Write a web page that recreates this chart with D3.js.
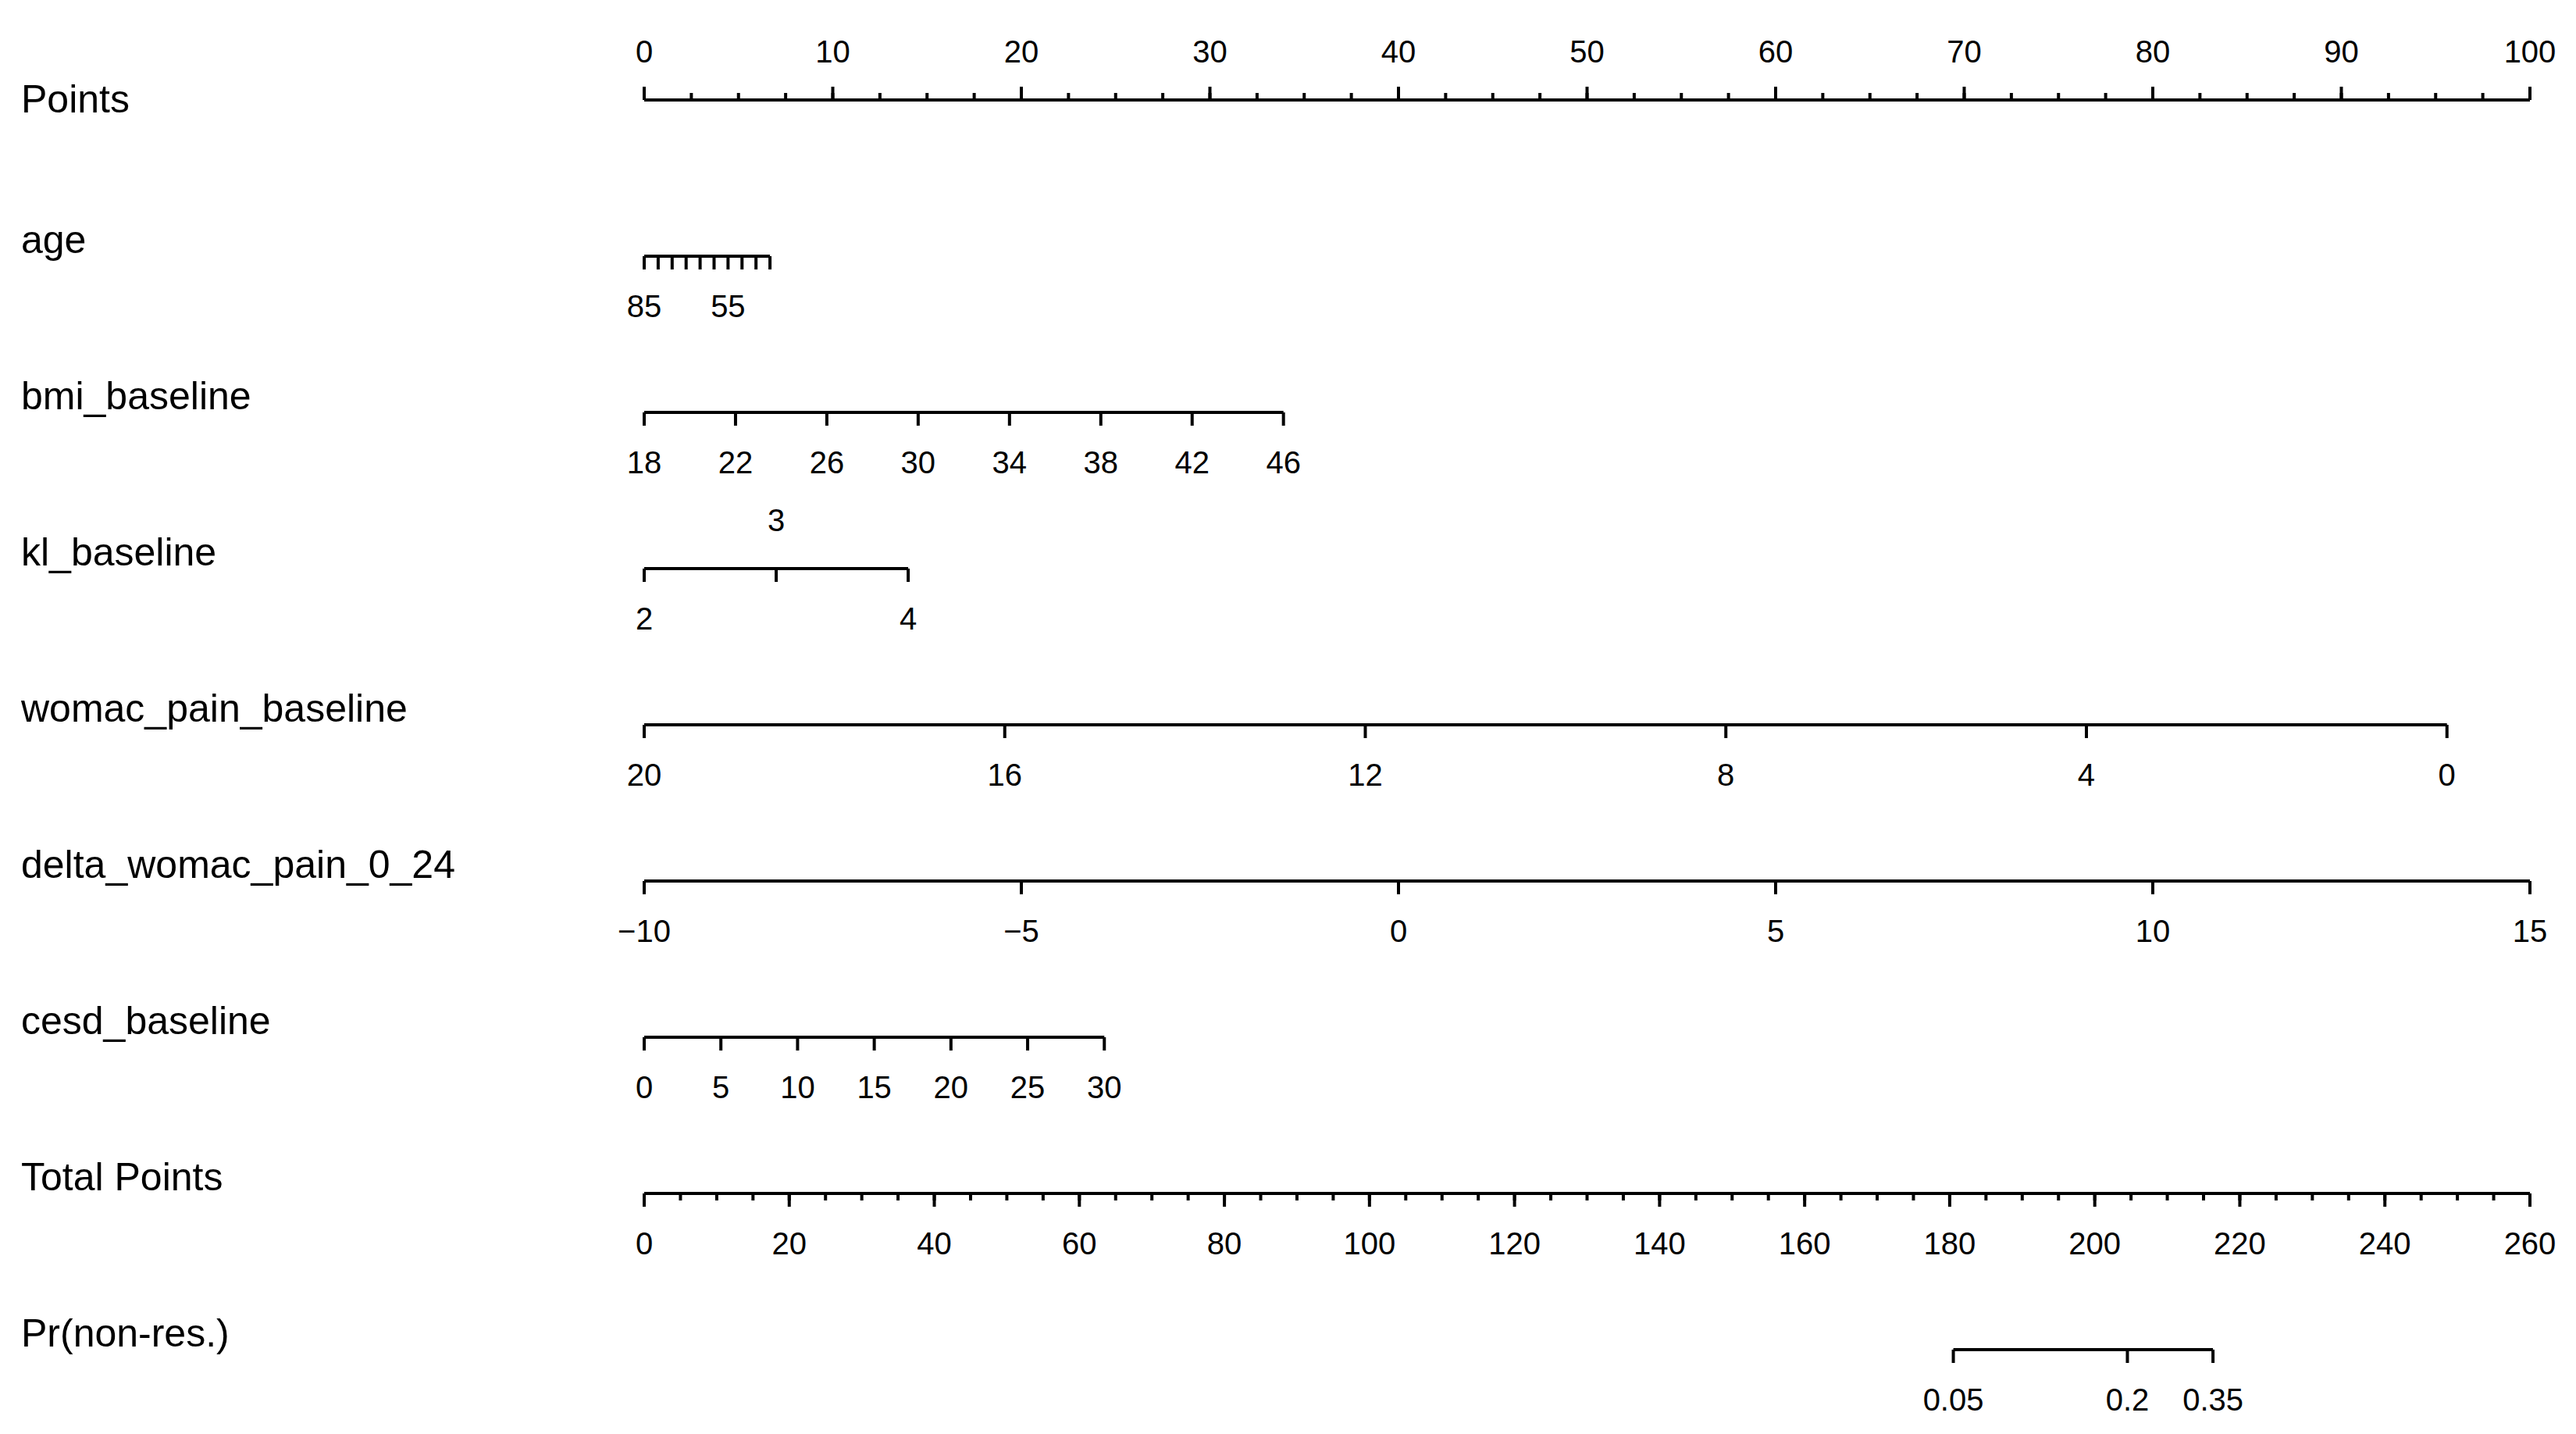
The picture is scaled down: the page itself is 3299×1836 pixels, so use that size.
<!DOCTYPE html>
<html><head><meta charset="utf-8">
<script src="https://cdn.jsdelivr.net/npm/d3@7"></script>
<style>body{margin:0;background:#fff}text{font-family:"Liberation Sans Narrow","Liberation Sans",Arial,sans-serif}</style>
</head><body><svg id="c" width="3299" height="1836"></svg>
<script>
const rowNames = ["Points","age","bmi_baseline","kl_baseline","womac_pain_baseline","delta_womac_pain_0_24","cesd_baseline","Total Points","Pr(non-res.)"];
// value domain ends and the points they map to
const ageDomain = [85, 40], agePoints = [0, 6.67], ageTicks = [85,80,75,70,65,60,55,50,45,40], ageLabels = [85,55];
const bmiDomain = [18, 46], bmiPoints = [0, 33.9], bmiTicks = [18,22,26,30,34,38,42,46];
const klDomain = [2, 4], klPoints = [0, 14.0], klTicks = [2,3,4];
const womacDomain = [20, 0], womacPoints = [0, 95.6], womacTicks = [20,16,12,8,4,0];
const deltaDomain = [-10, 15], deltaPoints = [0, 100], deltaTicks = [-10,-5,0,5,10,15];
const cesdDomain = [0, 30], cesdPoints = [0, 24.4], cesdTicks = [0,5,10,15,20,25,30];
const pointsTicks = d3.range(0,101,10), pointsMinor = d3.range(0,100.1,2.5);
const totalTicks = d3.range(0,261,20), totalMinor = d3.range(0,260.1,5);
const prValues = [0.05, 0.2, 0.35], prTotals = [180.5, 204.5, 216.3];

const svg = d3.select("#c");
const x = d3.scaleLinear([0,100],[825,3240]);
const xt = d3.scaleLinear([0,260],[825,3240]);
const y0 = 128, dy = 200;
const FS = 50, TS = 40, LW = 4;

rowNames.forEach((n,i)=>svg.append("text").attr("x",27).attr("y",y0+i*dy+(i==0?16:-4)).attr("font-size",FS).text(n));

function drawAxis(i, scale, ticks, opts={}){
  const y = y0 + i*dy;
  const g = svg.append("g").attr("stroke","#000").attr("stroke-width",LW).attr("fill","none");
  const r = d3.extent(ticks.map(scale));
  g.append("line").attr("x1",r[0]).attr("x2",r[1]).attr("y1",y).attr("y2",y);
  const dir = opts.up ? -1 : 1;
  (opts.minor||[]).forEach(t=>g.append("line").attr("x1",scale(t)).attr("x2",scale(t)).attr("y1",y).attr("y2",y+dir*9));
  ticks.forEach(t=>g.append("line").attr("x1",scale(t)).attr("x2",scale(t)).attr("y1",y).attr("y2",y+dir*(opts.tl||17)));
  const labels = opts.labels || ticks;
  labels.forEach(t=>{
    const above = opts.up || (opts.above && opts.above.includes(t));
    svg.append("text").attr("x",scale(t)).attr("y", above ? y-48 : y+78).attr("text-anchor","middle").attr("font-size",TS)
      .text(opts.fmt? opts.fmt(t) : String(t).replace("-","\u2212"));
  });
}
// Points (ticks upward)
drawAxis(0, x, pointsTicks, {up:true, minor:pointsMinor});
const mk = (dom, pts) => d3.scaleLinear(dom, pts.map(p=>x(p)));
drawAxis(1, mk(ageDomain, agePoints), ageTicks, {labels:ageLabels, tl:17});
drawAxis(2, mk(bmiDomain, bmiPoints), bmiTicks);
drawAxis(3, mk(klDomain, klPoints), klTicks, {above:[3]});
// kl "3" tick points upward
drawAxis(4, mk(womacDomain, womacPoints), womacTicks);
drawAxis(5, mk(deltaDomain, deltaPoints), deltaTicks);
drawAxis(6, mk(cesdDomain, cesdPoints), cesdTicks);
drawAxis(7, xt, totalTicks, {minor:totalMinor});
const prScale = d3.scaleLinear().domain(prValues).range(prTotals.map(xt));
drawAxis(8, prScale, prValues);
</script></body></html>
